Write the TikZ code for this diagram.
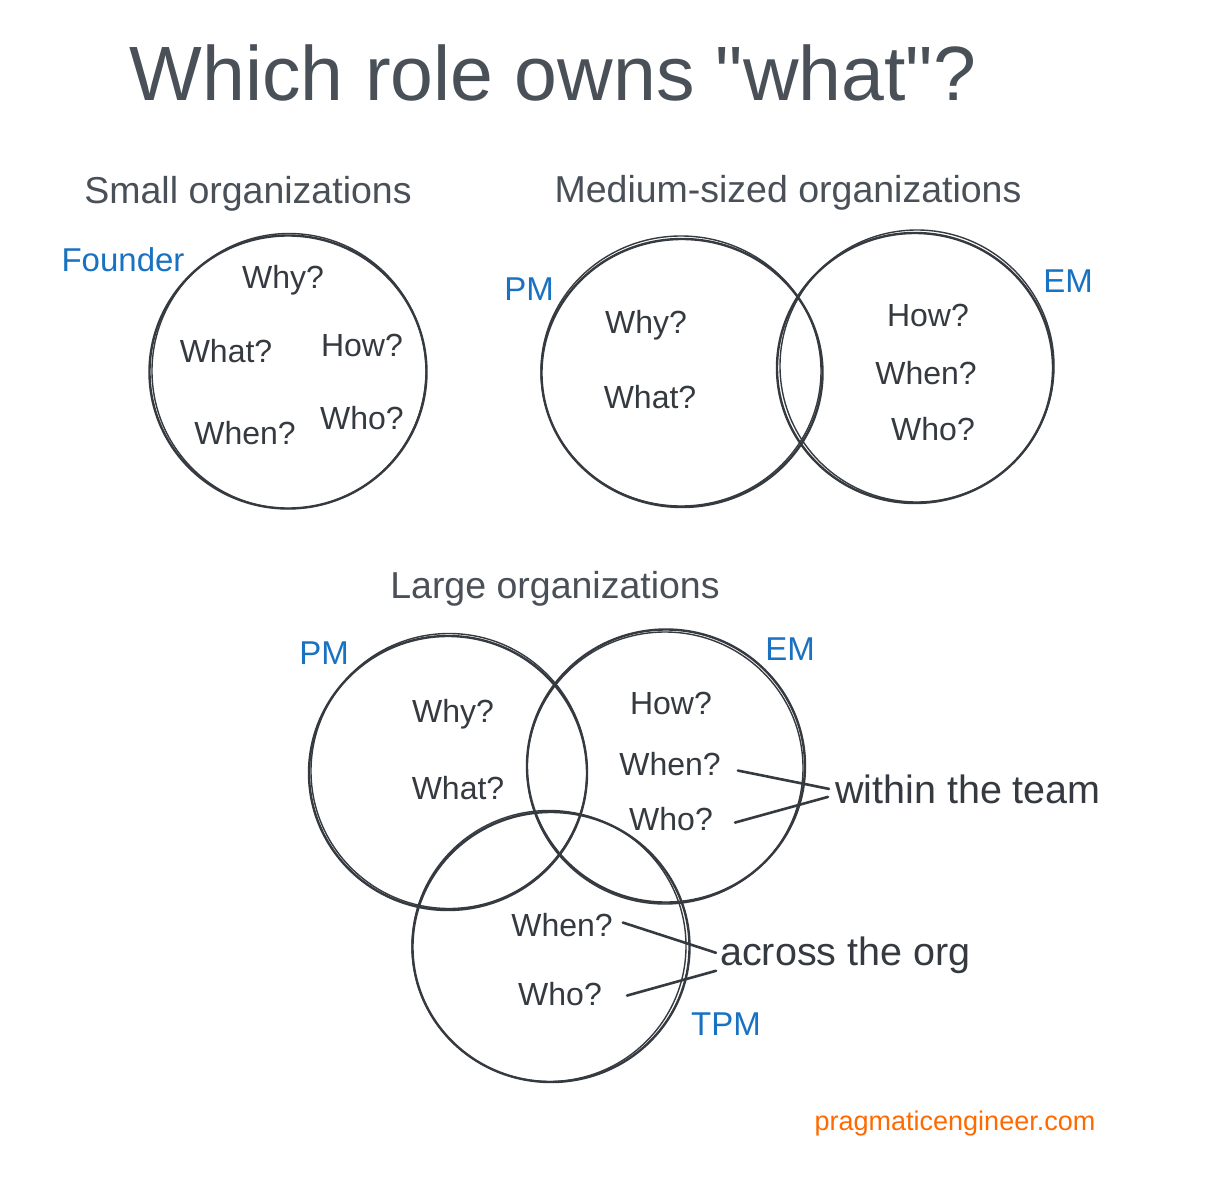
\documentclass[tikz,border=0pt]{standalone}
\usepackage{fontspec}
\setmainfont{Liberation Sans}
\usetikzlibrary{positioning,calc,shapes.geometric}
\definecolor{ink}{RGB}{52,58,64}
\definecolor{inkgray}{RGB}{73,80,87}
\definecolor{roleblue}{RGB}{25,113,194}
\definecolor{brandorange}{RGB}{255,106,0}
\tikzset{
  % --- role circles ----------------------------------------------------
  ring/.style  ={ellipse, draw=ink, line width=2.4pt, inner sep=0},
  pass/.style  ={draw=ink, line width=1.4pt},              % second rough stroke
  % --- text ------------------------------------------------------------
  ttl/.style   ={font=\fontsize{77}{84}\selectfont, text=inkgray, anchor=base, inner sep=0},
  sub/.style   ={font=\fontsize{37.5}{42}\selectfont, text=inkgray, anchor=base, inner sep=0},
  ask/.style   ={font=\fontsize{32}{36}\selectfont, text=ink, anchor=base, inner sep=0},
  role/.style  ={font=\fontsize{33}{38}\selectfont, text=roleblue, anchor=base, inner sep=0},
  note/.style  ={font=\fontsize{39.5}{44}\selectfont, text=ink, anchor=base, inner sep=0},
  brand/.style ={font=\fontsize{27}{30}\selectfont, text=brandorange, anchor=base, inner sep=0},
  % --- connectors ------------------------------------------------------
  link/.style  ={draw=ink, line width=2.6pt, line cap=round},
}

\begin{document}
\begin{tikzpicture}[x=1pt, y=-1pt]

  \fill[white] (0,0) rectangle (1208,1178);
  \useasboundingbox (0,0) rectangle (1208,1178);

  % ============================= title =============================
  \node[ttl] (title) at (553,100) {Which role owns \textquotedbl what\textquotedbl?};

  % ===================== small organizations =====================
  \node[sub] (smallT) at (248,203) {Small organizations};
  \node[ring, minimum width=277pt, minimum height=273pt] (founderC) at (288,372) {};
  \draw[pass] ($(founderC.center)+(1,-1)$) ellipse [x radius=137, y radius=137.5];
  \node[role] (founder) at (123,271) {Founder};
  \node[ask] (whyS)  at (283,288) {Why?};
  \node[ask] (whatS) at (226,362) {What?};
  \node[ask] (howS)  at (362,356) {How?};
  \node[ask] (whenS) at (245,444) {When?};
  \node[ask] (whoS)  at (362,429) {Who?};

  % ===================== medium-sized organizations =====================
  \node[sub] (mediumT) at (788,202) {Medium-sized organizations};
  \node[ring, minimum width=281pt, minimum height=268pt] (pmM) at (682,373) {};
  \draw[pass] ($(pmM.center)+(-1,-2)$) ellipse [x radius=140, y radius=135];
  \node[ring, minimum width=276pt, minimum height=270pt] (emM) at (915,368) {};
  \draw[pass] ($(emM.center)+(2,-2)$) ellipse [x radius=137, y radius=136];
  \node[role] (pmMl) at (529,300) {PM};
  \node[role] (emMl) at (1068,292) {EM};
  \node[ask] (whyM)  at (646,333) {Why?};
  \node[ask] (whatM) at (650,408) {What?};
  \node[ask] (howM)  at (928,326) {How?};
  \node[ask] (whenM) at (926,384) {When?};
  \node[ask] (whoM)  at (933,440) {Who?};

  % ===================== large organizations =====================
  \node[sub] (largeT) at (555,598) {Large organizations};
  \node[ring, minimum width=278pt, minimum height=274pt] (pmL) at (448,773) {};
  \draw[pass] ($(pmL.center)+(1,-2)$) ellipse [x radius=138, y radius=137.5];
  \node[ring, minimum width=278pt, minimum height=273pt] (emL) at (666,766) {};
  \draw[pass] ($(emL.center)+(-1,2)$) ellipse [x radius=138, y radius=136];
  \node[ring, minimum width=277pt, minimum height=270pt] (tpmL) at (551,947) {};
  \draw[pass] ($(tpmL.center)+(-2,-1)$) ellipse [x radius=137, y radius=135.5];
  \node[role] (pmLl)  at (324,664) {PM};
  \node[role] (emLl)  at (790,660) {EM};
  \node[role] (tpmLl) at (726,1035) {TPM};
  \node[ask] (whyL)  at (453,722) {Why?};
  \node[ask] (whatL) at (458,799) {What?};
  \node[ask] (howL)  at (671,714) {How?};
  \node[ask] (whenL) at (670,775) {When?};
  \node[ask] (whoL)  at (671,830) {Who?};
  \node[ask] (whenT) at (562,936) {When?};
  \node[ask] (whoT)  at (560,1005) {Who?};

  % ----- scope notes -----
  \node[note, anchor=base west] (team) at (835,803) {within the team};
  \node[note, anchor=base west] (org)  at (720,965) {across the org};

  % ============================= connectors =============================
  \draw[link] ($(whenL.east)+(17,7)$) -- ($(team.west)+(-6,0)$);
  \draw[link] ($(whoL.east)+(22,4)$)  -- ($(team.west)+(-7,8)$);
  \draw[link] ($(whenT.east)+(10,-2)$) -- ($(org.west)+(-4,-2)$);
  \draw[link] ($(whoT.east)+(25,2)$)  -- ($(org.west)+(-4,16)$);

  % ============================= footer =============================
  \node[brand] (site) at (955,1130) {pragmaticengineer.com};

\end{tikzpicture}
\end{document}
